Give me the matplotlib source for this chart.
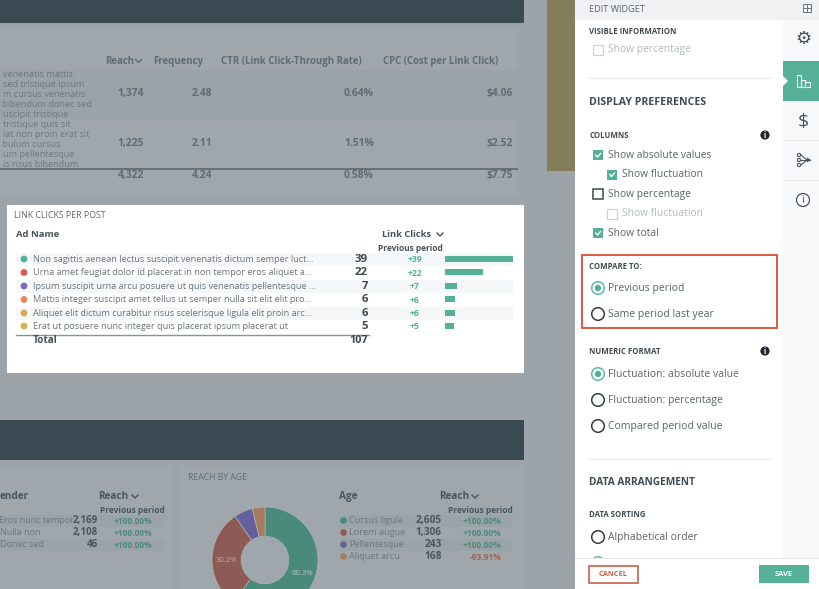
import matplotlib
matplotlib.use("Agg")
import matplotlib.pyplot as plt
from matplotlib.patches import Rectangle, Circle, Polygon

plt.rcParams['font.family'] = ['Open Sans', 'DejaVu Sans']

# widget data
ad_names = [
    "Non sagittis aenean lectus suscipit venenatis dictum semper luct...",
    "Urna amet feugiat dolor id placerat in non tempor eros aliquet a...",
    "Ipsum suscipit urna arcu posuere ut quis venenatis pellentesque ...",
    "Mattis integer suscipit amet tellus ut semper nulla sit elit elit pro...",
    "Aliquet elit dictum curabitur risus scelerisque ligula elit proin arc...",
    "Erat ut posuere nunc integer quis placerat ipsum placerat ut",
]
link_clicks = [39, 22, 7, 6, 6, 5]
link_delta = ["+39", "+22", "+7", "+6", "+6", "+5"]
dot_colors = ["#4db598", "#d9584e", "#7f68c4", "#e08a5a", "#d9a850", "#d4b44c"]

top_reach = ["1,374", "1,225", "4,322"]
top_freq = ["2.48", "2.11", "4.24"]
top_ctr = ["0.64%", "1.51%", "0.58%"]
top_cpc = ["$4.06", "$2.52", "$7.75"]
top_lines = ["venenatis mattis", "sed tristique ipsum", "m cursus venenatis", " bibendum donec sed",
             "uscipit tristique", "tristique quis sit", "iat non proin erat sit", " bulum cursus",
             "um pellentesque", "is risus bibendum"]

gender_names = ["Eros nunc tempor", "Nulla non", "Donec sed"]
gender_reach = ["2,169", "2,108", "46"]
gender_pct = ["+100.00%", "+100.00%", "+100.00%"]

age_names = ["Cursus ligula", "Lorem augue", "Pellentesque", "Aliquet arcu"]
age_reach = [2605, 1306, 243, 168]
age_pct = ["+100.00%", "+100.00%", "+100.00%", "-93.91%"]
age_colors = ["#4a8a7b", "#8e5a55", "#655f9e", "#a67b5e"]

W, H = 819, 589
fig = plt.figure(figsize=(W / 100, H / 100), dpi=100, facecolor="#9ca4a9")
ax = fig.add_axes([0, 0, 1, 1])
ax.set_xlim(0, W)
ax.set_ylim(H, 0)
ax.axis("off")

DIM = "#48565f"
DIM2 = "#5f6c74"
GREEN = "#55b196"
DARK = "#4a555d"


def rect(x0, y0, x1, y1, fc, ec="none", lw=0, z=1):
    ax.add_patch(Rectangle((x0, y0), x1 - x0, y1 - y0, fc=fc, ec=ec, lw=lw, zorder=z))


def txt(x, y, s, size=6.8, color=DIM, weight="normal", ha="left", z=5):
    # open sans sits a bit high when centred
    ax.text(x, y + 1.4, s, fontsize=size, color=color, fontweight=weight, ha=ha, va="center", zorder=z)


def chevron(x, y, color=DIM):
    ax.plot([x - 3, x, x + 3], [y - 1.5, y + 1.5, y - 1.5], color=color, lw=1, zorder=5)


# background pieces
rect(0, 0, 524, 23, "#3a4a53")
rect(0, 28, 517, 195, "#9fa7ac")
rect(0, 70, 517, 119, "#9aa3a7")
rect(547, 0, 575, 171, "#857e5a")
rect(0, 420, 524, 460, "#3a4a53")
rect(0, 466, 173, 589, "#9fa7ac")
rect(180, 466, 524, 589, "#9fa7ac")

# top table, dimmed
for xp, s in [(105, "Reach"), (153, "Frequency"), (221, "CTR (Link Click-Through Rate)"),
              (383, "CPC (Cost per Link Click)")]:
    txt(xp, 60.5, s, 6.9, DIM2, "bold")
chevron(138.5, 61, DIM2)
for i, s in enumerate(top_lines):
    txt(3 if i not in (3, 7) else 0, 73.5 + i * 10 + (0 if i < 5 else -0.5), s, 6.6, "#6d7980")
for y, a, b, c, d in zip([92.5, 142.5, 174], top_reach, top_freq, top_ctr, top_cpc):
    txt(144, y, a, 7.4, DIM2, "bold", "right")
    txt(212, y, b, 7.4, DIM2, "bold", "right")
    txt(374, y, c, 7.4, DIM2, "bold", "right")
    txt(513, y, d, 7.4, DIM2, "bold", "right")
ax.plot([0, 517], [168.5, 168.5], color="#5c666d", lw=1.2, zorder=3)

# focused widget
rect(7, 205, 524, 373, "white", z=2)
txt(13.5, 214.5, "LINK CLICKS PER POST", 6.3, "#5a666e", z=5)
txt(16, 233, "Ad Name", 6.8, "#46525a", "bold")
txt(382, 233, "Link Clicks", 6.7, "#46525a", "bold")
chevron(440, 234.5, "#46525a")
txt(378, 247, "Previous period", 6.0, "#46525a", "bold")

row_y = [259, 272.5, 286, 299.5, 313, 326]
for i, (name, val, delta, col, y) in enumerate(zip(ad_names, link_clicks, link_delta, dot_colors, row_y)):
    if i % 2 == 0:
        rect(16, y - 6.5, 513, y + 6.5, "#f6f7f8", z=2.5)
    ax.add_patch(Circle((24, y), 3.4, fc=col, ec="none", zorder=4))
    txt(33, y - 1, name, 6.6, "#6a757c")
    txt(368, y - 1.2, str(val), 8.2, "#3c4850", "bold", "right")
    txt(414.5, y - 0.5, delta, 6.2, GREEN, "bold", "center")
ax.plot([16, 369], [334.5, 334.5], color="#8d9296", lw=1, zorder=4)
txt(33, 339, "Total", 7.2, "#46525a", "bold")
txt(368, 339, "107", 7.8, "#3c4850", "bold", "right")

# bars of the focused widget, x scale 0-39 spans 445-512 px
bar_ax = fig.add_axes([445 / W, 1 - 333 / H, 67.5 / W, 81 / H], zorder=3)
bar_ax.barh(range(len(link_clicks)), link_clicks, height=0.42, color="#55b196")
bar_ax.set_xlim(0, 39)
bar_ax.set_ylim(5.5, -0.5)
bar_ax.axis("off")

# bottom left widget, dimmed
txt(0, 495, "ender", 7.2, DIM, "bold")
txt(98, 495, "Reach", 7.2, DIM, "bold")
chevron(135, 496.5)
txt(100, 509, "Previous period", 6.0, DIM, "bold")
for i, (n, r, p) in enumerate(zip(gender_names, gender_reach, gender_pct)):
    y = 520.5 + i * 12
    if i % 2 == 0:
        rect(0, y - 6, 165, y + 6, "#9aa3a7", z=1.5)
    txt(0 if i else -1, y - 1, n, 6.5, "#6b777e")
    txt(98, y - 1, r, 7.0, DIM, "bold", "right")
    txt(133, y - 0.5, p, 6.0, "#4c8a79", "bold", "center")

# bottom right widget, donut
txt(188, 476, "REACH BY AGE", 6.2, DIM2)
pie_ax = fig.add_axes([212 / W, 1 - 613 / H, 106 / W, 106 / H], zorder=3)
wedges, _ = pie_ax.pie(age_reach, colors=age_colors, startangle=90, counterclock=False, radius=1,
                       wedgeprops=dict(width=0.55, edgecolor="#a9b3b3", linewidth=0.5))
pie_ax.set_xlim(-1, 1)
pie_ax.set_ylim(-1, 1)
total = sum(age_reach)
pie_ax.text(0.70, -0.25, f"{age_reach[0] / total * 100:.1f}%", fontsize=5.6, color="#b6c8c2", ha="center", va="center")
pie_ax.text(-0.73, 0.0, f"{age_reach[1] / total * 100:.1f}%", fontsize=5.6, color="#c0aaa8", ha="center", va="center")

txt(339, 495, "Age", 7.2, DIM, "bold")
txt(439, 495, "Reach", 7.2, DIM, "bold")
chevron(475, 496.5)
txt(448, 509, "Previous period", 6.0, DIM, "bold")
for i, (n, r, p, c) in enumerate(zip(age_names, age_reach, age_pct, age_colors)):
    y = 520.5 + i * 12
    if i % 2 == 0:
        rect(340, y - 6, 512, y + 6, "#9aa3a7", z=1.5)
    ax.add_patch(Circle((343.5, y), 3.3, fc=c, ec="none", zorder=4))
    txt(349, y - 1, n, 6.6, "#6b777e")
    txt(442, y - 1, f"{r:,}", 7.3, DIM, "bold", "right")
    txt(501, y - 0.5, p, 6.0, "#4c8a79" if p[0] == "+" else "#a8604f", "bold", "right")

# edit panel
rect(575, 0, 783, 589, "white", z=2)
rect(783, 0, 819, 589, "#f7f8f9", z=2)
rect(575, 0, 819, 20, "#eff1f3", z=2.5)
txt(589, 8, "EDIT WIDGET", 6.6, "#5a666e")
rect(803, 4, 811, 12, "none", "#6a747b", 0.7, z=4)
ax.plot([807, 807], [4, 12], color="#6a747b", lw=0.7, zorder=4)
ax.plot([803, 811], [8, 8], color="#6a747b", lw=0.7, zorder=4)


def checkbox(y, x, label, state):
    # state: on, off, dis
    if state == "on":
        rect(x, y - 5, x + 10, y + 5, GREEN, z=4)
        ax.plot([x + 2.7, x + 4.5, x + 7.5], [y, y + 2, y - 1.5], color="white", lw=1, zorder=5)
    elif state == "off":
        rect(x, y - 5, x + 10, y + 5, "white", "#3f4a52", 1.1, z=4)
    else:
        rect(x, y - 5, x + 10, y + 5, "white", "#cfd3d6", 0.9, z=4)
    txt(x + 15, y - 1, label, 7.4, "#b5babe" if state == "dis" else "#59646c")


def radio(y, label, on=False):
    ax.add_patch(Circle((598, y), 6.3, fc="white", ec="#62bba2" if on else "#323c43", lw=1.1, zorder=4))
    if on:
        ax.add_patch(Circle((598, y), 3.2, fc=GREEN, ec="none", zorder=5))
    if label:
        txt(608, y - 1, label, 7.5, "#59646c")


def head(y, s, size=5.6):
    txt(589, y - 1, s, size, "#3f4a52", "bold")


def info(x, y):
    ax.add_patch(Circle((x, y), 4.6, fc="#20262b", ec="none", zorder=4))
    ax.text(x, y + 0.5, "i", fontsize=5.5, color="white", fontweight="bold", ha="center", va="center", zorder=5)


head(31, "VISIBLE INFORMATION")
checkbox(49.5, 593, "Show percentage", "dis")
ax.plot([589, 770], [77.5, 77.5], color="#e6e8ea", lw=0.9, zorder=3)
head(102, "DISPLAY PREFERENCES", 7.6)
head(135.5, "COLUMNS")
info(765, 135)
checkbox(155, 593, "Show absolute values", "on")
checkbox(174.5, 607, "Show fluctuation", "on")
checkbox(194, 593, "Show percentage", "off")
checkbox(213.5, 607, "Show fluctuation", "dis")
checkbox(233, 593, "Show total", "on")

rect(582, 255, 777, 328, "none", "#e2553f", 1.4, z=4)
head(266, "COMPARE TO:")
radio(288, "Previous period", True)
radio(314, "Same period last year")
head(351, "NUMERIC FORMAT")
info(765, 351)
radio(374, "Fluctuation: absolute value", True)
radio(400, "Fluctuation: percentage")
radio(426, "Compared period value")
ax.plot([589, 770], [458.5, 458.5], color="#e6e8ea", lw=0.9, zorder=3)
head(482, "DATA ARRANGEMENT", 7.3)
head(514, "DATA SORTING")
radio(537, "Alphabetical order")
radio(563, "", True)

# footer hides the cut radio
rect(575, 558, 819, 589, "white", z=6)
ax.plot([575, 819], [558, 558], color="#e4e6e8", lw=0.8, zorder=7)
rect(589, 566, 638, 583, "white", "#c8604f", 1.2, z=7)
ax.text(613.5, 575, "CANCEL", fontsize=5.4, color="#d0604f", fontweight="bold", ha="center", va="center", zorder=8)
rect(759, 565, 809, 583, GREEN, z=7)
ax.text(784, 575, "SAVE", fontsize=5.4, color="white", fontweight="bold", ha="center", va="center", zorder=8)

# sidebar tabs
rect(783, 61, 819, 101, GREEN, z=3)
ax.add_patch(Polygon([(783, 76), (788, 81), (783, 86)], fc="white", ec="none", zorder=4))
for yy in (140, 180):
    ax.plot([783, 819], [yy, yy], color="#e9ebed", lw=0.8, zorder=3)
ax.text(803, 39, "\u2699", fontsize=13, color=DARK, family="DejaVu Sans", ha="center", va="center", zorder=5)
for x0, x1, top in [(797, 801, 75), (801, 805, 80), (805, 809.5, 82)]:
    rect(x0, top, x1, 87, "none", "white", 0.8, z=5)
ax.text(803, 121.5, "$", fontsize=14, color=DARK, ha="center", va="center", zorder=5)
for yy in (155, 160, 165):
    ax.add_patch(Circle((799, yy), 1.6, fc="none", ec=DARK, lw=0.8, zorder=5))
ax.plot([801, 807], [155, 160], color=DARK, lw=0.8, zorder=5)
ax.plot([801, 807], [165, 160], color=DARK, lw=0.8, zorder=5)
ax.plot([801, 810], [160, 160], color=DARK, lw=0.8, zorder=5)
ax.add_patch(Polygon([(807, 157.5), (811, 160), (807, 162.5)], fc=DARK, ec="none", zorder=5))
ax.add_patch(Circle((803, 200), 6.5, fc="none", ec=DARK, lw=0.9, zorder=5))
ax.text(803, 200.5, "i", fontsize=8, color=DARK, ha="center", va="center", zorder=5)

fig.savefig("out.png", dpi=100, facecolor=fig.get_facecolor())
